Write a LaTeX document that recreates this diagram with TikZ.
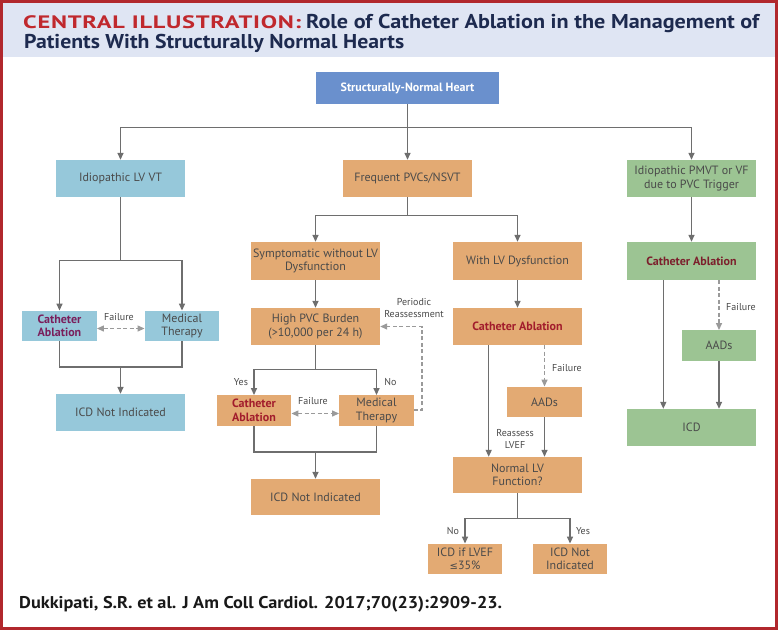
\documentclass[tikz,border=0pt]{standalone}
\usepackage{fontspec}
\setmainfont{PT Sans}
\usepackage{graphicx}
\usetikzlibrary{arrows.meta}
\definecolor{frame}{HTML}{B1282D}
\definecolor{band}{HTML}{DFE5F3}
\definecolor{tred}{HTML}{C0282D}
\definecolor{tnavy}{HTML}{1D2A4F}
\definecolor{cblue}{HTML}{6A90CD}
\definecolor{clblue}{HTML}{96C8DA}
\definecolor{corange}{HTML}{E3AA73}
\definecolor{cgreen}{HTML}{9CC493}
\definecolor{txt}{HTML}{4A4A4A}
\definecolor{lnc}{HTML}{6E6E6E}
\definecolor{dlc}{HTML}{9A9A9A}
\definecolor{capurple}{HTML}{7A1F5C}
\definecolor{cared}{HTML}{A21D2C}
\definecolor{camaroon}{HTML}{7C1F2C}
\tikzset{
  bx/.style={rectangle, inner sep=1pt, align=center, text=txt, font=\fontsize{12}{13.5}\selectfont, minimum width=129pt, minimum height=37pt},
  bb/.style={bx, fill=clblue},
  ob/.style={bx, fill=corange},
  gb/.style={bx, fill=cgreen},
  sm/.style={minimum width=74.5pt, minimum height=30.5pt},
  cab/.style={font=\fontsize{12}{13.5}\selectfont\bfseries},
  conn/.style={draw=lnc, line width=1.4pt},
  arr/.style={conn, -{Triangle[length=7pt,width=6pt]}},
  dsh/.style={draw=dlc, line width=1.3pt, dash pattern=on 4pt off 2.5pt},
  darr/.style={dsh, -{Triangle[length=7pt,width=6pt]}},
  dbl/.style={dsh, {Triangle[length=7pt,width=6pt]}-{Triangle[length=7pt,width=6pt]}},
  lbl/.style={text=txt, font=\fontsize{10}{11.5}\selectfont, align=center, inner sep=0pt}
}
\begin{document}
\begin{tikzpicture}[x=1pt,y=-1pt]
\useasboundingbox (0,0) rectangle (778,630);
\fill[white] (0,0) rectangle (778,630);
\fill[band] (3,3) rectangle (775,57);
\draw[frame, line width=3pt] (1.5,1.5) rectangle (776.5,628.5);
% title
\node[anchor=base west, inner sep=0pt, text=tred] (t0) at (23,28) {\resizebox{278pt}{\height}{\fontsize{18}{21}\selectfont\bfseries\addfontfeatures{LetterSpace=3}CENTRAL ILLUSTRATION:}};
\node[anchor=base west, inner sep=0pt, text=tnavy] (t1) at (306,28) {\resizebox{453pt}{\height}{\fontsize{20}{24}\selectfont\bfseries Role of Catheter Ablation in the Management of}};
\node[anchor=base west, inner sep=0pt, text=tnavy] (t2) at (24,48) {\resizebox{380pt}{\height}{\fontsize{20}{24}\selectfont\bfseries Patients With Structurally Normal Hearts}};
% footer
\node[anchor=base west, inner sep=0pt, text=black!90] (ft) at (19,608) {\resizebox{483pt}{\height}{\fontsize{17}{20}\selectfont\bfseries Dukkipati, S.R. et al. J Am Coll Cardiol. 2017;70(23):2909-23.}};
% nodes
\node[bx, fill=cblue, text=white, font=\fontsize{12}{13.5}\selectfont\bfseries, minimum width=183pt, minimum height=32pt] (top) at (407.5,88) {Structurally-Normal Heart};
\node[bb] (lvvt) at (120.5,178.5) {Idiopathic LV VT};
\node[ob] (freq) at (407.5,178.5) {Frequent PVCs/NSVT};
\node[gb] (pmvt) at (691.5,178.5) {Idiopathic PMVT or VF\\due to PVC Trigger};
\node[ob, minimum height=38pt] (symp) at (315.5,261) {Symptomatic without LV\\Dysfunction};
\node[ob, minimum height=38pt] (lvdys) at (517.5,261) {With LV Dysfunction};
\node[gb, minimum height=38pt, cab, text=camaroon] (gca) at (691.5,261) {Catheter Ablation};
\node[bb, sm, cab, text=capurple] (bca) at (59.5,326) {Catheter\\Ablation};
\node[bb, sm] (bmt) at (182,326) {Medical\\Therapy};
\node[bb] (bicd) at (120.5,412.5) {ICD Not Indicated};
\node[ob] (hpvc) at (315.5,326.5) {High PVC Burden\\(>10,000 per 24 h)};
\node[ob, sm, cab, text=cared] (oca) at (254,410.5) {Catheter\\Ablation};
\node[ob, sm] (omt) at (376.5,410.5) {Medical\\Therapy};
\node[ob, minimum height=36pt] (oicd) at (315.5,497) {ICD Not Indicated};
\node[ob, cab, text=cared] (lvca) at (517.5,326.5) {Catheter Ablation};
\node[ob, sm] (aads) at (544.5,402) {AADs};
\node[ob, minimum height=36pt] (nlv) at (517.5,475) {Normal LV\\Function?};
\node[ob, sm] (icdlvef) at (465,559) {ICD if LVEF\\{\fontspec{DejaVu Sans}\fontsize{10}{12}\selectfont ≤}35\%};
\node[ob, sm] (icdni) at (570,559) {ICD Not\\Indicated};
\node[gb, sm] (gaads) at (719,345.5) {AADs};
\node[gb] (gicd) at (691.5,427.5) {ICD};
% connectors from top
\draw[arr] (top.south) -- (freq.north);
\draw[arr] (top.south) -- ++(0,23) -| (lvvt.north);
\draw[arr] (top.south) -- ++(0,23) -| (pmvt.north);
% left branch
\draw[conn] (lvvt.south) -- ++(0,63) coordinate (b1);
\draw[arr] (b1) -| (bca.north);
\draw[arr] (b1) -| (bmt.north);
\coordinate (j1) at (120.5,367);
\draw[conn] (bca.south) |- (j1) -| (bmt.south);
\draw[arr] (j1) -- (bicd.north);
\draw[dbl] ([yshift=-2.5pt]bca.east) -- ([yshift=-2.5pt]bmt.west);
\node[lbl] (f1) at (119,317) {Failure};
% middle branch
\draw[arr] (freq.south) -- ++(0,18) -| (symp.north);
\draw[arr] (freq.south) -- ++(0,18) -| (lvdys.north);
\draw[arr] (symp.south) -- (hpvc.north);
\draw[conn] (hpvc.south) -- ++(0,24) coordinate (b2);
\draw[arr] (b2) -| (oca.north);
\draw[arr] (b2) -| (omt.north);
\node[lbl] (yes1) at (241,382) {Yes};
\node[lbl] (no1) at (390.5,382) {No};
\coordinate (j2) at (315.5,452);
\draw[conn] (oca.south) |- (j2) -| (omt.south);
\draw[arr] (j2) -- (oicd.north);
\draw[dbl] ([yshift=-3pt]oca.east) -- ([yshift=-3pt]omt.west);
\node[lbl] (f2) at (313,401) {Failure};
\coordinate (pr) at (422,326.5);
\draw[darr] ([yshift=0.5pt]omt.east) -| (pr) -- (hpvc.east);
\node[lbl] (per) at (414,308) {Periodic\\Reassessment};
% LV dysfunction branch
\draw[arr] (lvdys.south) -- (lvca.north);
\draw[arr] (lvca.south -| 488.7,0) -- (nlv.north -| 488.7,0);
\draw[darr] (lvca.south -| aads.north) -- (aads.north);
\node[lbl] (f3) at (567,368) {Failure};
\draw[arr] (aads.south) -- (nlv.north -| aads.south);
\node[lbl] (rl) at (515,439) {Reassess\\LVEF};
\draw[conn] (nlv.south) -- ++(0,25) coordinate (b3);
\draw[arr] (b3) -| (icdlvef.north);
\draw[arr] (b3) -| (icdni.north);
\node[lbl] (no2) at (453,531) {No};
\node[lbl] (yes2) at (583,531) {Yes};
% right branch
\draw[arr] (pmvt.south) -- (gca.north);
\draw[arr] (gca.south -| 663.3,0) -- (gicd.north -| 663.3,0);
\draw[darr] (gca.south -| gaads.north) -- (gaads.north);
\node[lbl] (f4) at (741,307) {Failure};
\draw[arr] (gaads.south) -- (gicd.north -| gaads.south);
\end{tikzpicture}
\end{document}
